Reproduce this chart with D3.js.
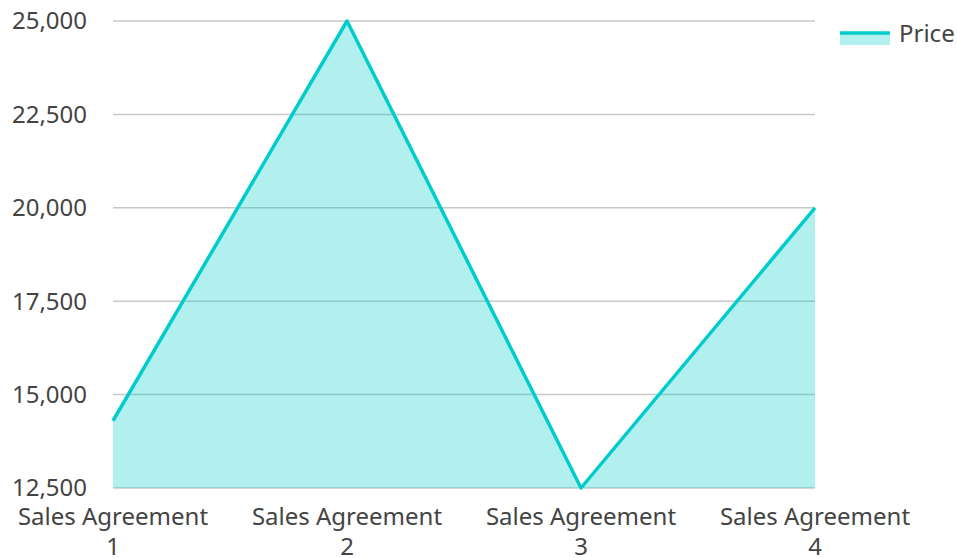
<!DOCTYPE html>
<html lang="en">
<head>
    <meta charset="UTF-8">
    <title>Price</title>
    <script src="https://d3js.org/d3.v7.min.js"></script>
    <style>
        body {margin: 0; background: #fff;}
        text {font-family: "Noto Sans", "Open Sans", sans-serif; fill: #444;}
    </style>
</head>
<body>
<script>
    const width = 957;
    const height = 558;

    const categories = ["Sales Agreement 1", "Sales Agreement 2", "Sales Agreement 3", "Sales Agreement 4"];
    const prices = [14300, 25000, 12500, 20000];
    const yTicks = [12500, 15000, 17500, 20000, 22500, 25000];
    const seriesName = "Price";

    const lineColor = "#00cccc";
    const fillColor = "rgba(0, 204, 204, 0.3)";

    const svg = d3.select("body").append("svg")
            .attr("width", width).attr("height", height);

    const x = d3.scalePoint()
            .domain(categories)
            .range([113, 815]);

    const y = d3.scaleLinear()
            .domain([12500, 25000])
            .range([488, 21]);

    // grid
    svg.append("g")
            .selectAll("line")
            .data(yTicks)
            .join("line")
            .attr("x1", 113).attr("x2", 815)
            .attr("y1", d => y(d)).attr("y2", d => y(d))
            .style("stroke", "#c8c8c8")
            .style("stroke-width", 1.5);

    // y labels
    svg.append("g")
            .selectAll("text")
            .data(yTicks)
            .join("text")
            .attr("x", 87)
            .attr("y", d => y(d))
            .attr("dy", "0.35em")
            .attr("text-anchor", "end")
            .style("font-size", "24px")
            .text(d => d3.format(",")(d));

    // x labels, two lines each
    const xl = svg.append("g")
            .selectAll("text")
            .data(categories)
            .join("text")
            .attr("text-anchor", "middle")
            .style("font-size", "24px");
    xl.append("tspan")
            .attr("x", d => x(d)).attr("y", 525)
            .text(d => d.replace(/ \d+$/, ""));
    xl.append("tspan")
            .attr("x", d => x(d)).attr("y", 555)
            .text(d => d.match(/\d+$/)[0]);

    const data = categories.map((c, i) => ({c: c, v: prices[i]}));

    const area = d3.area()
            .x(d => x(d.c))
            .y0(y(12500))
            .y1(d => y(d.v));

    const line = d3.line()
            .x(d => x(d.c))
            .y(d => y(d.v));

    svg.append("path")
            .datum(data)
            .attr("d", area)
            .style("fill", fillColor);

    svg.append("path")
            .datum(data)
            .attr("d", line)
            .style("fill", "none")
            .style("stroke", lineColor)
            .style("stroke-width", 3.5)
            .style("stroke-linejoin", "round");

    // legend
    const legend = svg.append("g");
    legend.append("rect")
            .attr("x", 840).attr("y", 32)
            .attr("width", 50).attr("height", 13)
            .style("fill", fillColor);
    legend.append("line")
            .attr("x1", 840).attr("x2", 890)
            .attr("y1", 33).attr("y2", 33)
            .style("stroke", lineColor)
            .style("stroke-width", 3.5);
    legend.append("text")
            .attr("x", 899).attr("y", 42)
            .style("font-size", "24px")
            .text(seriesName);
</script>
</body>
</html>
